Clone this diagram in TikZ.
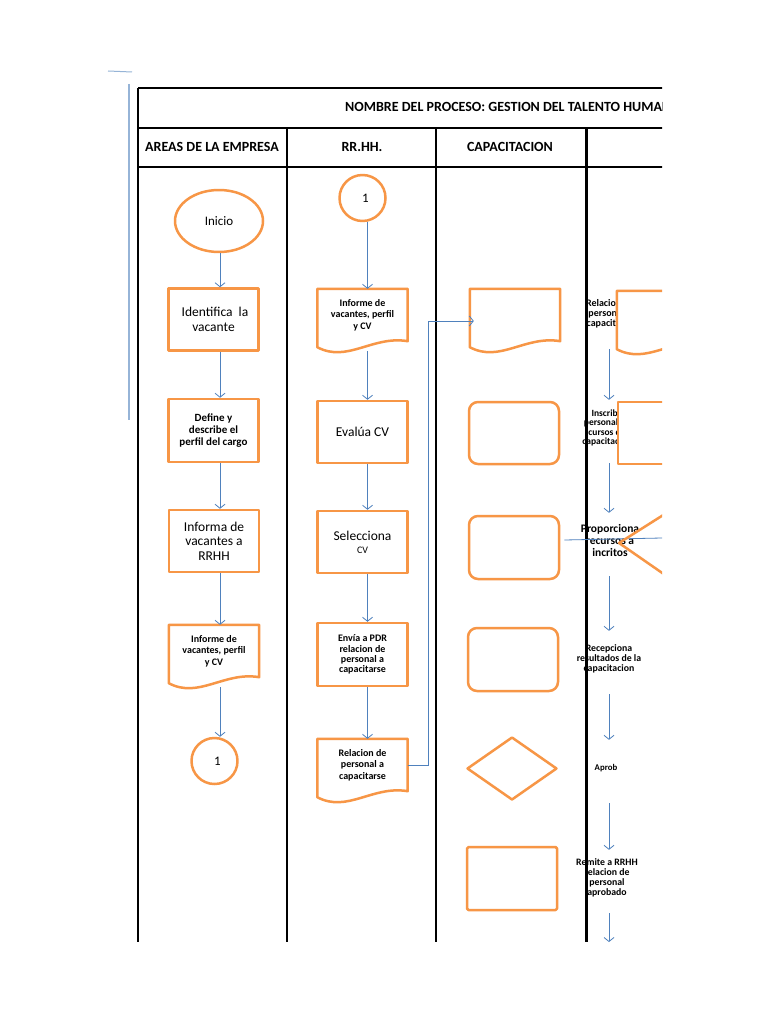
\documentclass[tikz,border=0pt]{standalone}
\usepackage{fontspec}
\setmainfont{Carlito}
\usetikzlibrary{arrows.meta,shapes.geometric}
\definecolor{orng}{RGB}{247,150,70}
\definecolor{arrblue}{RGB}{79,129,189}
\definecolor{paleblue}{RGB}{150,180,215}
\newcommand\fsz[2]{\fontsize{#1}{#2}\selectfont}
\newcommand\docoutline[2][]{\draw[orl,#1] (#2.north west) -- (#2.north east) -- (#2.south east) .. controls ([xshift=-35pt,yshift=6pt]#2.south east) and ([xshift=30pt,yshift=-22pt]#2.south west) .. ([yshift=-6pt]#2.south west) -- cycle;}
\tikzset{
 orl/.style={draw=orng,line width=2.5pt,line join=round},
 box/.style={rectangle,orl,minimum width=90pt,minimum height=62pt,inner sep=1pt,align=center},
 rbox/.style={box,rounded corners=9pt},
 docbox/.style={rectangle,minimum width=90pt,minimum height=52pt,inner sep=1pt,align=center},
 conn/.style={circle,orl,minimum size=46pt,inner sep=0pt,font=\fsz{13}{14}},
 arr/.style={draw=arrblue,line width=0.8pt,-{Straight Barb[length=4pt,width=10pt]}},
 farr/.style={arr,shorten >=-7pt},
 grid/.style={draw=black,line width=2.5pt},
 hdr/.style={font=\bfseries\fsz{14}{15},inner sep=0pt},
 ctext/.style={align=center,inner sep=0pt,minimum height=70pt,font=\bfseries\fsz{10}{10}},
}
\begin{document}
\begin{tikzpicture}[x=1pt,y=-1pt]
\useasboundingbox (0,0) rectangle (768,1024);
\fill[white] (0,0) rectangle (768,1024);
\begin{scope}
\clip (0,0) rectangle (662,1024);
% margin marks
\draw[paleblue,line width=1pt] (108,71) -- (132,72);
\draw[paleblue,line width=1.5pt] (129,84) -- (129,420);
% table
\draw[grid] (138,88) -- (700,88);
\draw[grid] (138,128) -- (700,128);
\draw[grid] (138,167) -- (700,167);
\draw[grid] (138,88) -- (138,942);
\draw[grid] (287,128) -- (287,942);
\draw[grid] (436,128) -- (436,942);
\draw[grid,line width=3pt] (586,128) -- (586,942);
\node[hdr,anchor=west] (title) at (345,107) {NOMBRE DEL PROCESO: GESTION DEL TALENTO HUMANO};
\node[hdr] (h1) at (212,147) {AREAS DE LA EMPRESA};
\node[hdr] (h2) at (362,147) {RR.HH.};
\node[hdr] (h3) at (510,147) {CAPACITACION};
% column 1
\coordinate (x1) at (220,0);
\node[ellipse,orl,minimum width=88pt,minimum height=62pt,inner sep=0pt,font=\fsz{13}{14}] (ini) at (219,221) {Inicio};
\node[box,font=\fsz{13.5}{15}] (n1) at (213.5,319.5) {\ Identifica\ \ la\\vacante};
\node[box,minimum height=63pt,font=\bfseries\fsz{11}{11.6}] (n2) at (213.5,430.5) {Define y\\describe el\\perfil del cargo};
\node[box,font=\fsz{13.5}{14.5}] (n3) at (214,541) {Informa de\\vacantes a\\RRHH};
\node[docbox,font=\bfseries\fsz{10}{11.5}] (d1) at (214,651) {Informe de\\vacantes, perfil\\y CV};
\docoutline{d1}
\node[conn] (c1) at (214.5,761) {\ \ 1};
\draw[arr] (x1 |- ini.south) -- (x1 |- n1.north);
\draw[arr] (x1 |- n1.south) -- (x1 |- n2.north);
\draw[arr] (x1 |- n2.south) -- (x1 |- n3.north);
\draw[arr] (x1 |- n3.south) -- (x1 |- d1.north);
\draw[arr] ([yshift=-10pt]x1 |- d1.south) -- (x1 |- c1.north);
% column 2
\coordinate (x2) at (367.5,0);
\node[conn] (c2) at (362.5,198) {\ \ 1};
\node[docbox,font=\bfseries\fsz{10}{11.5}] (d2) at (362.5,315) {Informe de\\vacantes, perfil\\y CV};
\docoutline{d2}
\node[box,font=\fsz{13.5}{15}] (e1) at (362.5,432) {Evalúa CV};
\node[box,font=\fsz{13.5}{13}] (e2) at (362.5,542) {Selecciona\\{\fsz{10}{11}CV}};
\node[box,minimum height=63pt,font=\bfseries\fsz{10}{10.3}] (e3) at (362.5,654.5) {Envía a PDR\\relacion de\\personal a\\capacitarse};
\node[docbox,font=\bfseries\fsz{10}{11.5}] (d3) at (362.5,765) {Relacion de\\personal a\\capacitarse};
\docoutline{d3}
\draw[arr] (x2 |- c2.south) -- (x2 |- d2.north);
\draw[arr] ([yshift=-10pt]x2 |- d2.south) -- (x2 |- e1.north);
\draw[arr] (x2 |- e1.south) -- (x2 |- e2.north);
\draw[arr] (x2 |- e2.south) -- (x2 |- e3.north);
\draw[arr] (x2 |- e3.south) -- (x2 |- d3.north);
% column 3
\node[docbox] (f1) at (515,315) {};
\docoutline{f1}
\node[rbox] (r1) at (514,433) {};
\node[rbox,minimum height=63pt] (r2) at (514,547.5) {};
\node[rbox,minimum height=63pt] (r3) at (513,659.5) {};
\node[diamond,orl,minimum width=90pt,minimum height=63pt,inner sep=0pt] (dm) at (512,768.5) {};
\node[box,minimum height=63pt,rounded corners=1.5pt] (r4) at (512,878.5) {};
\draw[arr] (d3.east) -- ++(21,0) |- ([xshift=4pt,yshift=-6pt]f1.west);
% column 4
\coordinate (x4) at (609,0);
\node[ctext] (t1) at (610,314) {Relacion de\\personal a\\capacitarse};
\node[ctext,font=\bfseries\fsz{9.5}{9.5}] (t2) at (607,428) {Inscribe\\personal en\\cursos de\\capacitacion};
\node[ctext,font=\bfseries\fsz{11.5}{12}] (t3) at (610,541) {Proporciona\\recursos a\\incritos};
\node[ctext,font=\bfseries\fsz{9.8}{10}] (t4) at (609,659) {Recepciona\\resultados de la\\capacitacion};
\node[ctext,font=\bfseries\fsz{8.8}{10}] (t5) at (606,768) {Aprob};
\node[ctext,font=\bfseries\fsz{9.8}{10}] (t6) at (607,878) {Remite a RRHH\\relacion de\\personal\\aprobado};
\coordinate (tend) at (608,942);
\node[docbox] (f4) at (662,317) {};
\docoutline[fill=white]{f4}
\node[box,fill=white] (b4) at (663,433) {};
\coordinate (lnend) at (662,538);
\draw[arrblue,line width=0.8pt] ([xshift=4pt,yshift=7.5pt]r2.east) -- (lnend);
\draw[orl] (668,512) -- (619,543) -- (668,577);
\draw[farr] (x4 |- t1.south) -- (x4 |- t2.north);
\draw[farr] (x4 |- t2.south) -- (x4 |- t3.north);
\draw[farr] (x4 |- t3.south) -- (x4 |- t4.north);
\draw[farr] (x4 |- t4.south) -- (x4 |- t5.north);
\draw[farr] (x4 |- t5.south) -- (x4 |- t6.north);
\draw[arr] (x4 |- t6.south) -- (x4 |- tend);
\end{scope}
\end{tikzpicture}
\end{document}
